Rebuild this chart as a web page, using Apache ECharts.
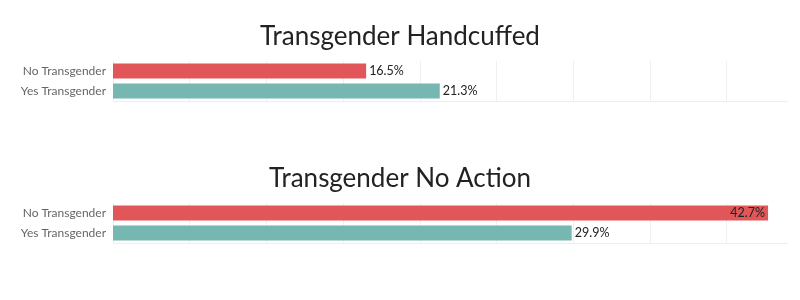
<!DOCTYPE html>
<html><head><meta charset="utf-8">
<script src="https://cdn.jsdelivr.net/npm/echarts@6/dist/echarts.min.js"></script>
<style>html,body{margin:0;padding:0;background:#fff}#c{width:800px;height:300px}</style>
</head><body><div id="c"></div>
<script>
const categories = ['No Transgender', 'Yes Transgender'];
const handcuffedValues = [16.5, 21.3];
const noActionValues = [42.7, 29.9];
const titles = ['Transgender Handcuffed', 'Transgender No Action'];
const colors = ['#e15759', '#76b7b2'];

const FONT = 'Lato';
const chart = echarts.init(document.getElementById('c'), null, {renderer: 'canvas'});

function xAxisCfg(i) {
  return {
    gridIndex: i, type: 'value', min: 0, max: 44, interval: 5,
    axisLabel: {show: false}, axisTick: {show: false},
    axisLine: {show: false},
    splitLine: {show: true, showMinLine: false, showMaxLine: false, lineStyle: {color: '#f0f0f0', width: 1}}
  };
}
function yAxisCfg(i) {
  return {
    gridIndex: i, type: 'category', data: categories, inverse: true,
    axisTick: {show: false},
    axisLine: {show: true, lineStyle: {color: '#eeeeee'}},
    axisLabel: {color: '#666', fontSize: 12, fontFamily: FONT, margin: 7}
  };
}
function seriesCfg(i, vals) {
  return {
    type: 'bar', xAxisIndex: i, yAxisIndex: i, barWidth: 15,
    data: vals.map(v => ({value: v, label: v > 40 ? {position: 'insideRight', distance: 3} : {}})),
    itemStyle: {color: p => colors[p.dataIndex]},
    label: {show: true, position: 'right', distance: 3, color: '#222', fontSize: 12.5, fontFamily: FONT,
            formatter: p => p.value.toFixed(1) + '%'}
  };
}
chart.setOption({
  animation: false,
  title: [
    {text: titles[0], left: 'center', top: 19, textStyle: {fontFamily: FONT, fontSize: 26, fontWeight: 'normal', color: '#222'}},
    {text: titles[1], left: 'center', top: 161, textStyle: {fontFamily: FONT, fontSize: 26, fontWeight: 'normal', color: '#222'}}
  ],
  grid: [
    {left: 113, right: 12, top: 61, height: 40},
    {left: 113, right: 12, top: 203, height: 40}
  ],
  xAxis: [xAxisCfg(0), xAxisCfg(1)],
  yAxis: [yAxisCfg(0), yAxisCfg(1)],
  graphic: [
    {type: 'line', shape: {x1: 113, y1: 101.5, x2: 788, y2: 101.5}, style: {stroke: '#eeeeee', lineWidth: 1}},
    {type: 'line', shape: {x1: 113, y1: 243.5, x2: 788, y2: 243.5}, style: {stroke: '#eeeeee', lineWidth: 1}}
  ],
  series: [seriesCfg(0, handcuffedValues), seriesCfg(1, noActionValues)]
});
</script></body></html>
